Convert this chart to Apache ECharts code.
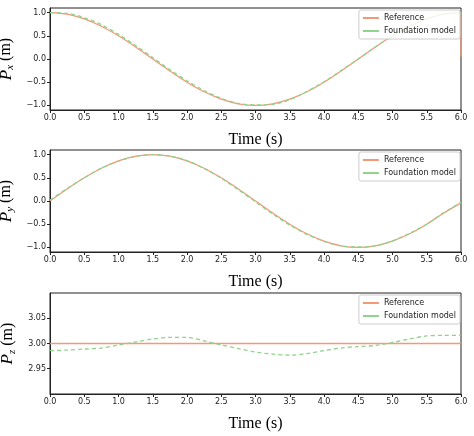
<!DOCTYPE html>
<html><head><meta charset="utf-8">
<script src="https://cdn.jsdelivr.net/npm/echarts@6/dist/echarts.min.js"></script>
<style>html,body{margin:0;padding:0;background:#fff}#c{width:474px;height:436px}</style>
</head><body><div id="c"></div>
<script>
const t = [0,0.25,0.5,0.75,1,1.25,1.5,1.75,2,2.25,2.5,2.75,3,3.25,3.5,3.75,4,4.25,4.5,4.75,5,5.25,5.5,5.75,6];
const pxRef = [1,0.966,0.866,0.707,0.5,0.259,0,-0.259,-0.5,-0.707,-0.866,-0.966,-1,-0.966,-0.866,-0.707,-0.5,-0.259,0,0.259,0.5,0.707,0.866,0.966,1];
const pxFm = [1.0,0.985,0.89,0.74,0.53,0.29,0.03,-0.23,-0.47,-0.68,-0.85,-0.96,-0.99,-0.98,-0.88,-0.70,-0.49,-0.25,0.0,0.26,0.5,0.71,0.87,0.97,1.0];
const pyRef = [0,0.259,0.5,0.707,0.866,0.966,1,0.966,0.866,0.707,0.5,0.259,0,-0.259,-0.5,-0.707,-0.866,-0.966,-1,-0.966,-0.866,-0.707,-0.5,-0.259,-0.04];
const pyFm = [0.02,0.27,0.5,0.71,0.86,0.96,1,0.97,0.87,0.7,0.49,0.24,-0.02,-0.28,-0.52,-0.72,-0.87,-0.97,-0.99,-0.97,-0.86,-0.7,-0.5,-0.25,-0.03];
const pzRef = [3,3,3,3,3,3,3,3,3,3,3,3,3,3,3,3,3,3,3,3,3,3,3,3,3];
const pzFm = [2.986,2.987,2.989,2.991,2.997,3.003,3.009,3.012,3.012,3.005,2.997,2.990,2.983,2.979,2.977,2.980,2.986,2.991,2.994,2.996,3.002,3.009,3.015,3.016,3.016];
const xTicks = [0,0.5,1,1.5,2,2.5,3,3.5,4,4.5,5,5.5,6];
const yTicks12 = [-1,-0.5,0,0.5,1];
const yTicks3 = [2.95,3.0,3.05];
const sub = ['x','y','z'];

const tops=[8,150,293], hs=[102,102,101];
const refC='#f2997a', fmC='#8fd48a';
const zip=(a,b)=>a.map((v,i)=>[v,b[i]]);
const grids=[],xA=[],yA=[],series=[],legends=[];
const sets=[[pxRef,pxFm],[pyRef,pyFm],[pzRef,pzFm]];
for(let i=0;i<3;i++){
  grids.push({left:50,right:13,top:tops[i],height:hs[i],show:true,borderColor:'#222',borderWidth:1,containLabel:false,outerBoundsMode:'none'});
  xA.push({type:'value',gridIndex:i,min:0,max:6,interval:0.5,
    name:'Time (s)',nameLocation:'middle',nameGap:22,
    nameTextStyle:{fontFamily:'Liberation Serif',fontSize:16,color:'#000'},
    axisLine:{onZero:false,lineStyle:{color:'#222'}},axisTick:{length:3,lineStyle:{color:'#222'}},
    splitLine:{show:false},
    axisLabel:{fontSize:8,color:'#222',margin:4,fontFamily:'DejaVu Sans',formatter:v=>v.toFixed(1)}});
  const isZ=i===2;
  yA.push({type:'value',gridIndex:i,min:isZ?2.9:-1.1,max:isZ?3.1:1.1,
    name:'{p|P}{s|'+sub[i]+'}{m| (m)}',nameLocation:'middle',nameGap:isZ?30:26,nameRotate:90,
    nameTextStyle:{rich:{p:{fontFamily:'Liberation Serif',fontStyle:'italic',fontSize:17,color:'#000'},
      s:{fontFamily:'Liberation Serif',fontStyle:'italic',fontSize:11,color:'#000',padding:[8,0,0,0]},
      m:{fontFamily:'Liberation Serif',fontSize:16,color:'#000'}}},
    axisLine:{show:true,onZero:false,lineStyle:{color:'#222'}},splitLine:{show:false},
    axisTick:{length:3,lineStyle:{color:'#222'},customValues:isZ?yTicks3:yTicks12},
    axisLabel:{fontSize:8,color:'#222',margin:4,fontFamily:'DejaVu Sans',customValues:isZ?yTicks3:yTicks12,
      formatter:v=>isZ?v.toFixed(2):v.toFixed(1).replace('-','\u2212')}});
  const refData=zip(t,sets[i][0]);
  if(i===0) refData.push([6,0.05]);
  series.push({name:'Reference',type:'line',xAxisIndex:i,yAxisIndex:i,data:refData,smooth:0.3,showSymbol:false,
    lineStyle:{color:refC,width:1.3},itemStyle:{color:refC},z:2});
  series.push({name:'Foundation model',type:'line',xAxisIndex:i,yAxisIndex:i,data:zip(t,sets[i][1]),smooth:0.3,showSymbol:false,
    lineStyle:{color:fmC,width:1.3,type:[4,3]},itemStyle:{color:fmC},z:3});
  legends.push({show:true,data:['Reference','Foundation model'],
    right:14,top:tops[i]+2,orient:'vertical',itemWidth:16,itemHeight:2,itemGap:5,
    backgroundColor:'rgba(255,255,255,0.85)',borderColor:'#ccc',borderWidth:1,borderRadius:2,padding:[4,4,4,4],
    icon:'rect',
    textStyle:{fontSize:8,color:'#222',fontFamily:'DejaVu Sans'}});
}
const chart=echarts.init(document.getElementById('c'));
chart.setOption({animation:false,grid:grids,xAxis:xA,yAxis:yA,series:series,legend:legends});
</script></body></html>
